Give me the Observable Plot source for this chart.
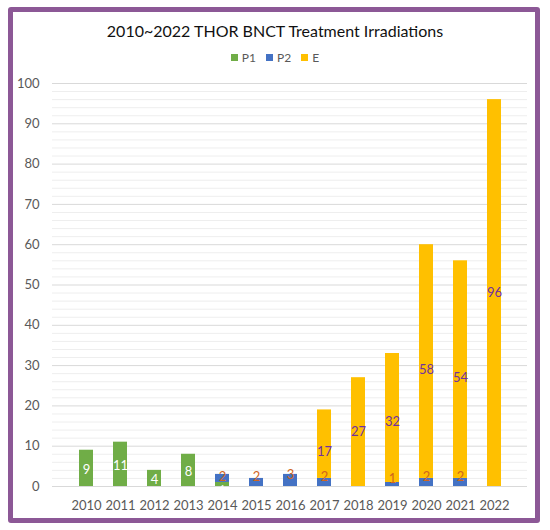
<!DOCTYPE html>
<html>
<head>
<meta charset="utf-8">
<script src="https://cdn.jsdelivr.net/npm/d3@7"></script>
<script src="https://cdn.jsdelivr.net/npm/@observablehq/plot@0.6"></script>
<style>
  html, body { margin: 0; padding: 0; background: #fff; }
  body { width: 550px; height: 530px; position: relative; font-family: Lato, "Noto Sans", sans-serif; overflow: hidden; }
  #frame { position: absolute; left: 8px; top: 7px; width: 522px; height: 506px; border: 5px solid #8C5896; border-radius: 3px; }
  #title { position: absolute; left: 0; width: 550px; top: 21px; text-align: center; font-size: 16px; color: #111; }
  #legend { position: absolute; left: 0; width: 550px; top: 50px; text-align: center; font-size: 12px; color: #595959; }
  #legend span.item { margin: 0 5px; }
  #legend span.sw { display: inline-block; width: 7px; height: 7px; margin-right: 4px; vertical-align: 1px; }
  #chart { position: absolute; left: 0; top: 70px; }
</style>
</head>
<body>
<div id="frame"></div>
<div id="title">2010~2022 THOR BNCT Treatment Irradiations</div>
<div id="legend"></div>
<div id="chart"></div>
<script>
const years = ["2010","2011","2012","2013","2014","2015","2016","2017","2018","2019","2020","2021","2022"];
const seriesNames = ["P1", "P2", "E"];
const p1 = [9, 11, 4, 8, 1, 0, 0, 0, 0, 0, 0, 0, 0];
const p2 = [0, 0, 0, 0, 2, 2, 3, 2, 0, 1, 2, 2, 0];
const e  = [0, 0, 0, 0, 0, 0, 0, 17, 27, 32, 58, 54, 96];
const yTicks = [0, 10, 20, 30, 40, 50, 60, 70, 80, 90, 100];

const colors = { P1: "#70AD47", P2: "#4472C4", E: "#FFC000" };
const labelColors = { P1: "#FFFFFF", P2: "#D0661E", E: "#7030A0" };

const seriesValues = { P1: p1, P2: p2, E: e };
const data = [];
seriesNames.forEach((s, si) => {
  years.forEach((y, i) => {
    data.push({ year: y, series: s, order: si, value: seriesValues[s][i] });
  });
});
const nonZero = data.filter(d => d.value > 0);

const minorTicks = d3.range(0, 101, 2).filter(v => v % 10 !== 0);

// legend
const legend = document.getElementById("legend");
seriesNames.forEach(s => {
  const it = document.createElement("span");
  it.className = "item";
  it.innerHTML = `<span class="sw" style="background:${colors[s]}"></span>${s}`;
  legend.appendChild(it);
});

// label groups: [series, filter, dy, fontSize]
const labelGroups = [
  ["P1", d => d.value >= 2, 1, 13],
  ["P1", d => d.value < 2, 4, 8],
  ["P2", d => true, -6, 13],
  ["E", d => true, 0, 13]
];
const textMarks = labelGroups.map(([s, f, dy, fs]) => Plot.text(nonZero, Plot.stackY({
  filter: d => d.series === s && f(d),
  x: "year", y: "value", z: "series", order: seriesNames,
  text: d => String(d.value),
  fill: labelColors[s],
  fontSize: fs,
  dy
})));

const chart = Plot.plot({
  width: 550,
  height: 456,
  marginTop: 13,
  marginBottom: 40,
  marginLeft: 52,
  marginRight: 23,
  style: { fontFamily: "Lato, 'Noto Sans', sans-serif", fontSize: "13px", color: "#595959", background: "transparent" },
  x: { domain: years, padding: 0.6, label: null, tickSize: 0, tickPadding: 14 },
  y: { domain: [0, 100], label: null, ticks: yTicks, tickSize: 0, tickPadding: 13 },
  color: { domain: seriesNames, range: seriesNames.map(s => colors[s]) },
  marks: [
    Plot.ruleY(minorTicks, { stroke: "#EEEEEE", strokeWidth: 1 }),
    Plot.ruleY(yTicks, { stroke: "#D9D9D9", strokeWidth: 1 }),
    Plot.barY(data, Plot.stackY({ x: "year", y: "value", fill: "series", order: seriesNames })),
    ...textMarks
  ]
});
document.getElementById("chart").appendChild(chart);
</script>
</body>
</html>
